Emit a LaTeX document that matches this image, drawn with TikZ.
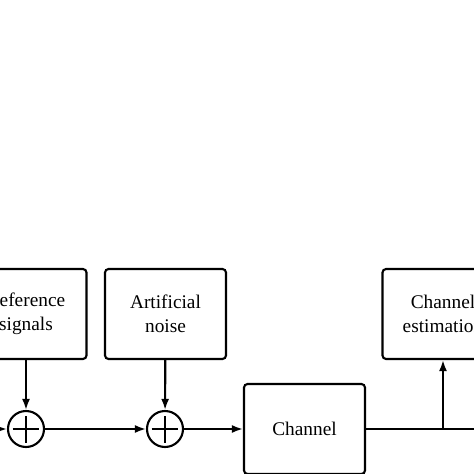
\documentclass[tikz,border=0pt]{standalone}
\usepackage{fontspec}
\setmainfont{Liberation Serif}
\usetikzlibrary{arrows.meta}
\usetikzlibrary{positioning}

\begin{document}
\begin{tikzpicture}[x=0.02cm,y=-0.02cm,line width=1.2pt,
    every node/.append style={font=\fontsize{11}{13.6}\selectfont}]
\useasboundingbox (0,0) rectangle (474,474);
\clip (0,0) rectangle (474,474);

\begin{scope}[every node/.style={draw,rounded corners=2pt,align=center,
        minimum width=2.42cm,minimum height=1.8cm,
        font=\fontsize{11}{13.6}\selectfont}]
    \node (ref) at (26,314) {Reference\\signals};
    \node (noise) at (165.5,314) {Artificial\\noise};
    \node (chan) at (304.5,429) {Channel};
    \node (est) at (443,314) {Channel\\estimation};
\end{scope}

\begin{scope}[every node/.style={draw,circle,minimum size=0.72cm,inner sep=0pt,
        path picture={
            \draw (path picture bounding box.center) ++(-0.27cm,0) -- ++(0.54cm,0);
            \draw (path picture bounding box.center) ++(0,-0.27cm) -- ++(0,0.54cm);}}]
    \node (add1) at (26,429) {};
    \node (add2) at (165,429) {};
\end{scope}

\coordinate (in) at (-30,429);
\coordinate (br) at (443,429);
\coordinate (out) at (510,429);

\begin{scope}[every edge/.style={draw,line width=1.2pt}]
    \foreach \u/\v in {in/add1, add1/add2, add2/chan, ref/add1, noise/add2, br/est}
        \path [-{Latex[length=2.2mm,width=1.6mm]}] (\u) edge (\v);
    \path (chan) edge (out);
\end{scope}
\end{tikzpicture}
\end{document}
